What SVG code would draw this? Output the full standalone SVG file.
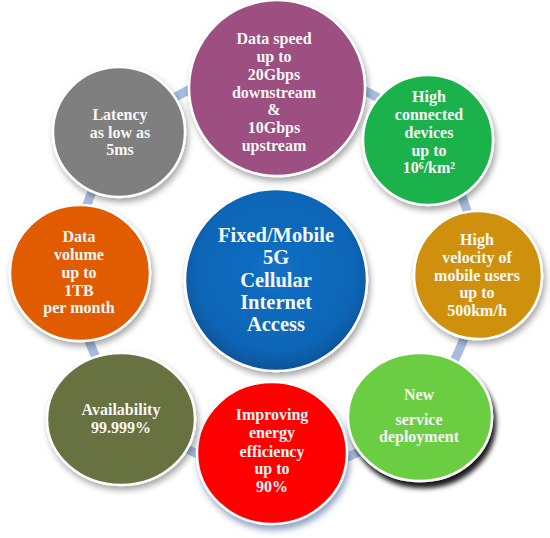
<svg xmlns="http://www.w3.org/2000/svg" width="550" height="538" viewBox="0 0 550 538">
<defs>
  <filter id="sh" x="-20%" y="-20%" width="150%" height="150%">
    <feDropShadow dx="2" dy="4" stdDeviation="3" flood-color="#000" flood-opacity="0.35"/>
  </filter>
  <filter id="shBlue" x="-20%" y="-20%" width="150%" height="150%">
    <feDropShadow dx="2" dy="5" stdDeviation="3" flood-color="#3a5a90" flood-opacity="0.55"/>
  </filter>
  <filter id="shDark" x="-20%" y="-20%" width="150%" height="150%">
    <feDropShadow dx="3" dy="6" stdDeviation="2.5" flood-color="#000" flood-opacity="0.9"/>
  </filter>
  <radialGradient id="gBlue" cx="50%" cy="45%" r="55%">
    <stop offset="0" stop-color="#136fc4"/>
    <stop offset="0.8" stop-color="#0d65b6"/>
    <stop offset="1" stop-color="#0a5398"/>
  </radialGradient>
</defs>
<style>
  .node { stroke: #ffffff; stroke-width: 2.5; }
  text { font-family: "Liberation Serif", "Times New Roman", serif; font-weight: bold; fill: #f7f7f7; text-anchor: middle; font-size: 16px; }
  .big { font-size: 20.5px; }
</style>
<rect width="550" height="538" fill="#ffffff"/>
<g id="connectors">
  <circle cx="276" cy="270" r="200" fill="none" stroke="#a8bcdf" stroke-width="9"/>
</g>
<g id="center">
  <circle cx="276" cy="280" r="91" fill="url(#gBlue)" class="node" filter="url(#sh)"/>
  <text class="big" x="276" y="242">Fixed/Mobile</text>
  <text class="big" x="276" y="264">5G</text>
  <text class="big" x="276" y="287">Cellular</text>
  <text class="big" x="276" y="309">Internet</text>
  <text class="big" x="276" y="331">Access</text>
</g>
<g id="n-speed">
  <circle cx="277" cy="88" r="88" fill="#9c5080" class="node" filter="url(#sh)"/>
  <text x="274" y="44">Data speed</text>
  <text x="274" y="62">up to</text>
  <text x="274" y="80">20Gbps</text>
  <text x="274" y="98">downstream</text>
  <text x="274" y="115">&amp;</text>
  <text x="274" y="133">10Gbps</text>
  <text x="274" y="151">upstream</text>
</g>
<g id="n-devices">
  <circle cx="428" cy="140" r="65" fill="#1bb24b" class="node" filter="url(#sh)"/>
  <text x="429" y="102">High</text>
  <text x="429" y="120">connected</text>
  <text x="429" y="138">devices</text>
  <text x="429" y="156">up to</text>
  <text x="429" y="173">10⁶/km²</text>
</g>
<g id="n-velocity">
  <circle cx="478" cy="275" r="64" fill="#cf9110" class="node" filter="url(#sh)"/>
  <text x="477" y="245">High</text>
  <text x="477" y="263">velocity of</text>
  <text x="477" y="281">mobile users</text>
  <text x="477" y="298">up to</text>
  <text x="477" y="316">500km/h</text>
</g>
<g id="n-service">
  <ellipse cx="420" cy="417" rx="72" ry="64" fill="#6acd42" class="node" filter="url(#shDark)"/>
  <text x="419" y="400">New</text>
  <text x="419" y="425">service</text>
  <text x="419" y="442">deployment</text>
</g>
<g id="n-energy">
  <ellipse cx="272" cy="453" rx="75" ry="71" fill="#fe0000" class="node" filter="url(#shBlue)"/>
  <text x="272" y="420">Improving</text>
  <text x="272" y="438">energy</text>
  <text x="272" y="457">efficiency</text>
  <text x="272" y="474">up to</text>
  <text x="272" y="492">90%</text>
</g>
<g id="n-availability">
  <ellipse cx="121" cy="419" rx="74" ry="66" fill="#67723f" class="node" filter="url(#sh)"/>
  <text x="121" y="415">Availability</text>
  <text x="121" y="433">99.999%</text>
</g>
<g id="n-volume">
  <ellipse cx="80" cy="273" rx="70" ry="68" fill="#e15b00" class="node" filter="url(#sh)"/>
  <text x="79" y="242">Data</text>
  <text x="79" y="260">volume</text>
  <text x="79" y="278">up to</text>
  <text x="79" y="296">1TB</text>
  <text x="79" y="313">per month</text>
</g>
<g id="n-latency">
  <ellipse cx="119" cy="132" rx="66" ry="65" fill="#7f7f7f" class="node" filter="url(#sh)"/>
  <text x="120" y="120">Latency</text>
  <text x="120" y="138">as low as</text>
  <text x="120" y="155">5ms</text>
</g>
</svg>
